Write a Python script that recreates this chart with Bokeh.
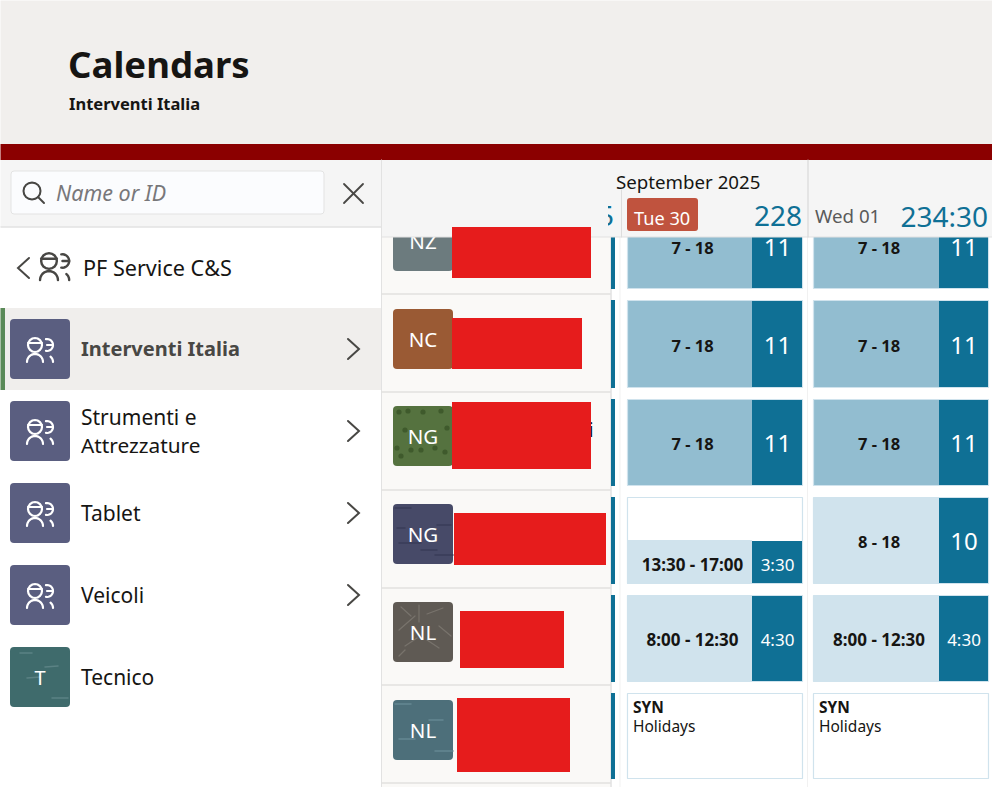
import math
from bokeh.core.properties import value
from bokeh.plotting import figure
from bokeh.embed import file_html
from bokeh.resources import INLINE

FONT = "Noto Sans"
# ---- content ----
page_title = "Calendars"
page_subtitle = "Interventi Italia"
search_hint = "Name or ID"
parent_group = "PF Service C&S"
nav_labels = [["Interventi Italia"], ["Strumenti e", "Attrezzature"], ["Tablet"], ["Veicoli"], ["Tecnico"]]
nav_top = [319, 401, 483, 565, 647]
nav_colors = ["#5a5e80", "#5a5e80", "#5a5e80", "#5a5e80", "#3f6b6c"]
month_label = "September 2025"
day_labels = ["Tue 30", "Wed 01"]
day_totals = ["228", "234:30"]
row_initials = ["NZ", "NC", "NG", "NG", "NL", "NL"]
row_colors = ["#6c7b7e", "#9a5a34", "#55723f", "#474a68", "#5f5a54", "#4d6f7a"]
avatar_top = [211, 309, 406, 504, 602, 700]
row_sep = [294, 392, 490, 588, 685, 783]
cell_top = [204, 300, 399, 497, 595, 693]
cell_bot = [289, 388, 486, 584, 682, 779]
col_left = [627, 813]
col_split = [752, 939]
col_right = [803, 989]
shift_tue = ["7 - 18", "7 - 18", "7 - 18", "13:30 - 17:00", "8:00 - 12:30", None]
hours_tue = ["11", "11", "11", "3:30", "4:30", None]
shift_wed = ["7 - 18", "7 - 18", "7 - 18", "8 - 18", "8:00 - 12:30", None]
hours_wed = ["11", "11", "11", "10", "4:30", None]
absence_title = "SYN"
absence_note = "Holidays"
redact_left = [452, 452, 452, 454, 460, 457]
redact_right = [591, 582, 591, 606, 564, 570]
redact_top = [227, 318, 402, 513, 611, 698]
redact_bot = [278, 369, 469, 565, 668, 772]

DARK, MID, LIGHT = "#0f7095", "#92bdd0", "#d0e3ed"
INK = "#161513"
FAR = 1000

p = figure(width=992, height=787, x_range=(0.5, 992.5), y_range=(787.5, 0.5),
           output_backend="svg", toolbar_location=None, min_border=0,
           outline_line_color=None, background_fill_color="white",
           border_fill_color="#f1efed",
           styles={"position": "absolute", "left": "0px", "top": "0px"})
p.axis.visible = False
p.grid.visible = False


def box(l, t, r, b, fill, line=None, radius=0, lw=1):
    p.quad(left=[l], right=[r], top=[t], bottom=[b], fill_color=fill,
           line_color=line, line_width=lw, border_radius=radius)


def txt(x, y, s, size, color=INK, style="normal", align="left"):
    p.text(x=[x], y=[y], text=[s], text_font=value(FONT), text_font_size=f"{size}px",
           text_color=color, text_font_style=style, text_align=align,
           text_baseline="middle")


def stroke(xs, ys, color="#484744", w=2):
    p.line(xs, ys, line_color=color, line_width=w, line_cap="round", line_join="miter")


def curve(cx, cy, r, a0, a1, color, w):
    n = 16
    pts = [math.radians(a0 + (a1 - a0) * i / n) for i in range(n + 1)]
    stroke([cx + r * math.cos(a) for a in pts], [cy + r * math.sin(a) for a in pts], color, w)


def chevron(x, y, h, w, color="#484744"):
    stroke([x, x + w, x], [y - h, y, y + h], color)


def people(x, y, color, s=1.0, w=2.2):
    """group icon; (x, y) is the centre of the left head"""
    curve(x, y, 7 * s, 0, 360, color, w)
    stroke([x - 7 * s, x + 7 * s], [y - 2 * s, y - 2 * s], color, w)
    curve(x, y + 17 * s, 8 * s, 180, 360, color, w)
    curve(x + 12 * s, y, 6 * s, -100, 100, color, w)
    stroke([x + 12 * s, x + 18 * s], [y, y], color, w)
    curve(x + 11 * s, y + 17 * s, 7 * s, -50, 0, color, w)


# ---- page header ----
box(-5, -5, FAR, 144, "#f1efed")
box(-5, 144, FAR, 160, "#8b0000")
txt(68, 63.5, page_title, 36.6, style="bold")
txt(69, 103, page_subtitle, 16.5, style="bold")

# ---- left navigation ----
box(-5, 160, 382, FAR, "white")
box(-5, 160, 382, 227, "#f5f5f5")
stroke([-5, 382], [227, 227], "#e2e2e2", 1.5)
box(11, 171, 324, 214, "#fbfcfe", "#e3e3e3", 3)
curve(32, 191, 8.5, 0, 360, "#484744", 2)
stroke([38, 44], [197, 203])
txt(56, 192.5, search_hint, 21.5, "#78777a", "italic")
stroke([344, 363], [184, 203], w=1.8)
stroke([344, 363], [203, 184], w=1.8)
chevron(29, 268, 10, -11)
people(49, 261, "#484744", 1.12, 2.4)
txt(83, 267.5, parent_group, 21.6)

box(-5, 308, 382, 390, "#f0eeec")
box(-5, 308, 5, 390, "#5a8a58")
for i, (top, col, lab) in enumerate(zip(nav_top, nav_colors, nav_labels)):
    box(10, top, 70, top + 60, col, None, 4)
    mid = top + 30
    if lab[0] != "Tecnico":
        people(35, mid - 4, "white")
        chevron(348, mid, 10, 11)
    else:
        stroke([20, 32], [top + 6, top + 6], "#5b8284", 1.5)
        stroke([27, 40], [top + 31, top + 30], "#5b8284", 1.5)
        stroke([45, 58], [top + 20, top + 19], "#5b8284", 1.5)
        stroke([52, 68], [top + 51, top + 51], "#5b8284", 1.5)
        txt(40, mid, "T", 20, "white", align="center")
    bold = i == 0
    if len(lab) == 1:
        txt(81, mid - 0.5, lab[0], 20 if bold else 21, "#484744" if bold else INK, "bold" if bold else "normal")
    else:
        txt(81, mid - 14, lab[0], 21)
        txt(81, mid + 13.5, lab[1], 20.8)
stroke([381.5, 381.5], [160, FAR], "#e2e2e2", 1)

# ---- resource column ----
box(382, 237, 610, FAR, "#faf9f7")
for y in row_sep:
    stroke([382, 610], [y, y], "#e2e1df", 1.5)

# avatars
for top, col in zip(avatar_top, row_colors):
    box(393, top, 453, top + 60, col, None, 4)
# avatar textures
for dx, dy in [(6, 6), (15, 5), (30, 6), (48, 5), (54, 22), (12, 24), (18, 44), (28, 44), (42, 42), (52, 46), (4, 42), (8, 50)]:
    p.circle(x=[393 + dx], y=[406 + dy], radius=2.6, fill_color="#3f5a2c", line_color=None)
for dx1, dx2, dy in [(2, 18, 4), (4, 12, 24), (6, 28, 39), (44, 58, 21), (42, 60, 51), (28, 44, 46)]:
    stroke([393 + dx1, 393 + dx2], [504 + dy, 504 + dy], "#3a3c58", 1.5)
for dx1, dy1, dx2, dy2 in [(8, 5, 18, 14), (26, 3, 26, 20), (34, 12, 50, 6), (6, 28, 22, 14), (12, 44, 24, 36), (34, 38, 46, 46), (46, 24, 58, 34), (6, 54, 12, 48)]:
    stroke([393 + dx1, 393 + dx2], [602 + dy1, 602 + dy2], "#78736c", 1.2)
for dx1, dx2, dy in [(2, 18, 4), (36, 50, 20), (6, 22, 39), (42, 60, 51)]:
    stroke([393 + dx1, 393 + dx2], [700 + dy, 700 + dy], "#648892", 1.5)
for top, ini in zip(avatar_top, row_initials):
    txt(423, top + 30, ini, 20.5, "white", align="center")
txt(588.5, 429, "i", 20)

# ---- schedule grid ----
box(611, 237, FAR, FAR, "white")
stroke([611, 611], [237, FAR], "#d9d9d9", 1.2)
stroke([620, 620], [237, FAR], "#f1f1f1", 1)
stroke([807.5, 807.5], [237, FAR], "#f1f1f1", 1)

for top, bot in zip(cell_top, cell_bot):
    box(611, top, 615, bot, DARK)

tue = list(zip(cell_top, cell_bot, shift_tue, hours_tue))
wed = list(zip(cell_top, cell_bot, shift_wed, hours_wed))
for c, rows in enumerate([tue, wed]):
    L, S, R = col_left[c], col_split[c], col_right[c]
    mx, hx = (L + S) / 2 + 3, (S + R) / 2
    for r, (top, bot, shift, hrs) in enumerate(rows):
        if shift is None:
            box(L + .5, top + .5, R - .5, bot - .5, "white", LIGHT, 0, 1.2)
            txt(L + 6, top + 14, absence_title, 15.5, style="bold")
            txt(L + 6, top + 33, absence_note, 15.5)
            continue
        full = ":" not in shift
        partial = shift.startswith("13")
        fill = MID if shift == "7 - 18" else LIGHT
        if partial:
            box(L + .5, top + .5, R - .5, bot - .5, "white", LIGHT, 0, 1.2)
            box(L, 540, S, bot, LIGHT)
            box(S, 541, R - 1, bot - 1, DARK)
            ty = (540 + bot) / 2 + 2
        else:
            box(L + .5, top + .5, R - .5, bot - .5, fill, LIGHT, 0, 1.2)
            box(S, top + 1, R - 1, bot - 1, DARK)
            ty = (top + bot) / 2 + 1
        txt(mx, ty, shift, 16.5 if full else 17, style="bold", align="center")
        txt(hx, ty, hrs, 24 if full else 17, "white", align="center")

# ---- column header ----
box(382, 160, FAR, 237, "#f5f5f5")
txt(614, 216, "5", 28, DARK, align="right")
box(382, 195, 608, 237, "#f5f5f5")
stroke([382, FAR], [237, 237], "#e2e2e2", 1.2)
stroke([808, 808], [160, 237], "#d9d9d9", 1.2)
stroke([621.5, 621.5], [190, 237], "#dddddd", 1)
txt(616, 181.5, month_label, 18.7)
box(627, 198, 698, 231, "#c0533e", None, 3)
txt(634, 218, day_labels[0], 18.2, "white")
txt(802, 216, day_totals[0], 28, DARK, align="right")
txt(815, 215, day_labels[1], 18.7, "#5a5a5a")
txt(988, 216, day_totals[1], 28, DARK, align="right")

# ---- redaction blocks ----
p.quad(left=redact_left, right=redact_right, top=redact_top, bottom=redact_bot,
       fill_color="#e61c1c", line_color=None)

open("out.html", "w").write(file_html(p, INLINE))
